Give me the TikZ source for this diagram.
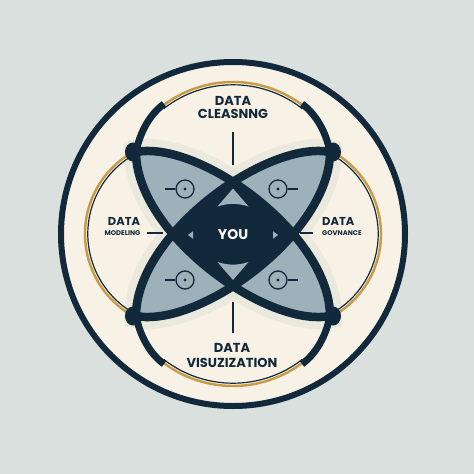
\documentclass[tikz,border=0pt]{standalone}
\usepackage{fontspec}
\setmainfont{Poppins}
\definecolor{bgc}{HTML}{D9E0DD}
\definecolor{cream}{HTML}{F7F2E5}
\definecolor{shade}{HTML}{E6E6DB}
\definecolor{navy}{HTML}{12293B}
\definecolor{petal}{HTML}{9DB1BB}
\definecolor{gold}{HTML}{C99A46}
\begin{document}
\begin{tikzpicture}[x=1pt,y=-1pt,
  edgeline/.style={draw=navy,line width=8.5pt},
  shadowline/.style={draw=shade,line width=24pt,opacity=0.7},
  outarc/.style={draw=navy,line width=7pt},
  goldline/.style={draw=gold,line width=2.4pt},
  innerline/.style={draw=navy,line width=1.2pt},
  thinline/.style={draw=navy,line width=1.5pt},
  icon/.style={draw=navy,line width=1.3pt},
  lab/.style={inner sep=0pt,text=navy,font=\bfseries\fontsize{13}{13}\selectfont},
  labm/.style={inner sep=0pt,text=navy,font=\bfseries\fontsize{11.5}{11.5}\selectfont},
  labs/.style={inner sep=0pt,text=navy,font=\bfseries\fontsize{6.8}{6.8}\selectfont},
  youlab/.style={inner sep=0pt,text=white,font=\bfseries\fontsize{14}{14}\selectfont}]
\useasboundingbox (0,0) rectangle (474,474);
\fill[bgc] (0,0) rectangle (474,474);
% outer disk
\draw[fill=cream,draw=navy,line width=6pt] (233,234) circle[radius=172];
% tips
\coordinate (tl) at (136,152);
\coordinate (tr) at (330,152);
\coordinate (bl) at (136,316);
\coordinate (br) at (330,316);
\coordinate (tle) at (164,104);
\coordinate (tre) at (302,104);
\coordinate (ble) at (164,364);
\coordinate (bre) at (302,364);
% soft shadow round the petals
\draw[shadowline] (tl) .. controls (200,140) and (330,235) .. (br) .. controls (266,328) and (136,233) .. (tl) -- cycle;
\draw[shadowline] (tr) .. controls (266,140) and (136,235) .. (bl) .. controls (200,328) and (330,233) .. (tr) -- cycle;
% gold arcs with inner dark lines
\draw[goldline] ([shift={(179,234)}]119:94) arc[start angle=119,end angle=241,radius=94];
\draw[innerline] ([shift={(179,234)}]119:91.2) arc[start angle=119,end angle=241,radius=91.2];
\draw[goldline] ([shift={(287,234)}]-61:94) arc[start angle=-61,end angle=61,radius=94];
\draw[innerline] ([shift={(287,234)}]-61:91.2) arc[start angle=-61,end angle=61,radius=91.2];
\draw[goldline] ([shift={(233,197.5)}]232:115.5) arc[start angle=232,end angle=308,radius=115.5];
\draw[innerline] ([shift={(233,197.5)}]232:112.7) arc[start angle=232,end angle=308,radius=112.7];
\draw[goldline] ([shift={(233,270.5)}]52:115.5) arc[start angle=52,end angle=128,radius=115.5];
\draw[innerline] ([shift={(233,270.5)}]52:112.7) arc[start angle=52,end angle=128,radius=112.7];
% petals
\fill[petal] (tl) .. controls (200,140) and (330,235) .. (br) .. controls (266,328) and (136,233) .. (tl) -- cycle;
\fill[petal] (tr) .. controls (266,140) and (136,235) .. (bl) .. controls (200,328) and (330,233) .. (tr) -- cycle;
% dark centre: the overlap of both lenses
\begin{scope}
  \clip (tl) .. controls (200,140) and (330,235) .. (br) .. controls (266,328) and (136,233) .. (tl) -- cycle;
  \fill[navy] (tr) .. controls (266,140) and (136,235) .. (bl) .. controls (200,328) and (330,233) .. (tr) -- cycle;
\end{scope}
\fill[navy] (233,234.5) circle[radius=40];
% light notches in the centre
\fill[petal] (233,188.5) -- (248.5,206.5) .. controls (238,203) and (228,203) .. (217.5,206.5) -- cycle;
\fill[petal] (233,280) -- (248.5,262) .. controls (238,265.5) and (228,265.5) .. (217.5,262) -- cycle;
\fill[petal] (188,235) -- (193,231.2) -- (193,238.8) -- cycle;
\fill[petal] (278,235) -- (273,231.2) -- (273,238.8) -- cycle;
% edges
\draw[edgeline] (tl) .. controls (200,140) and (330,235) .. (br);
\draw[edgeline] (br) .. controls (266,328) and (136,233) .. (tl);
\draw[edgeline] (tr) .. controls (266,140) and (136,235) .. (bl);
\draw[edgeline] (bl) .. controls (200,328) and (330,233) .. (tr);
% outer arcs
\draw[outarc] (tl) .. controls (140,132) and (150,114) .. (tle);
\draw[outarc] (tr) .. controls (326,132) and (316,114) .. (tre);
\draw[outarc] (bl) .. controls (140,336) and (150,354) .. (ble);
\draw[outarc] (br) .. controls (326,336) and (316,354) .. (bre);
% blobs
\fill[navy] (133,152) ellipse[x radius=8,y radius=9.5];
\fill[navy] (333,152) ellipse[x radius=8,y radius=9.5];
\fill[navy] (133,316) ellipse[x radius=8,y radius=9.5];
\fill[navy] (333,316) ellipse[x radius=8,y radius=9.5];
% icons
\node[icon,circle,minimum size=18pt,inner sep=0pt] (i1) at (185,189) {};
\node[icon,circle,minimum size=18pt,inner sep=0pt] (i2) at (278,189) {};
\node[icon,circle,minimum size=18pt,inner sep=0pt] (i3) at (185,280) {};
\node[icon,circle,minimum size=18pt,inner sep=0pt] (i4) at (278,280) {};
\foreach \n in {i1,i2,i3,i4} \fill[navy] (\n.center) circle[radius=1.6];
\coordinate (e1) at (165,189);
\coordinate (e2) at (298,189);
\coordinate (e3) at (165,280);
\coordinate (e4) at (298,280);
\draw[icon] (e1) -- (i1.west);
\draw[icon] (i2.east) -- (e2);
\draw[icon] (e3) -- (i3.west);
\draw[icon] (i4.east) -- (e4);
% label ticks
\coordinate (vt1) at (233,132); \coordinate (vt2) at (233,165);
\coordinate (vb1) at (233,302); \coordinate (vb2) at (233,333);
\coordinate (hl1) at (147,233); \coordinate (hl2) at (163,233);
\coordinate (hr1) at (300,233); \coordinate (hr2) at (313,233);
\draw[thinline] (vt1) -- (vt2);
\draw[thinline] (vb1) -- (vb2);
\draw[thinline] (hl1) -- (hl2);
\draw[thinline] (hr1) -- (hr2);
% labels
\node[lab] (tdata) at (233,100.5) {DATA};
\node[lab] (tclean) at (233,113.5) {CLEASNNG};
\node[lab] (bdata) at (232,348) {DATA};
\node[lab] (bvis) at (232,362.7) {VISUZIZATION};
\node[labm] (ldata) at (124,221) {DATA};
\node[labs] (lmod) at (122.5,233.5) {MODELING};
\node[labm,anchor=west] (rdata) at (322,221) {DATA};
\node[labs,anchor=west] (rgov) at (322,233.5) {GOVNANCE};
\node[youlab] (you) at (233,235) {YOU};
\end{tikzpicture}
\end{document}
